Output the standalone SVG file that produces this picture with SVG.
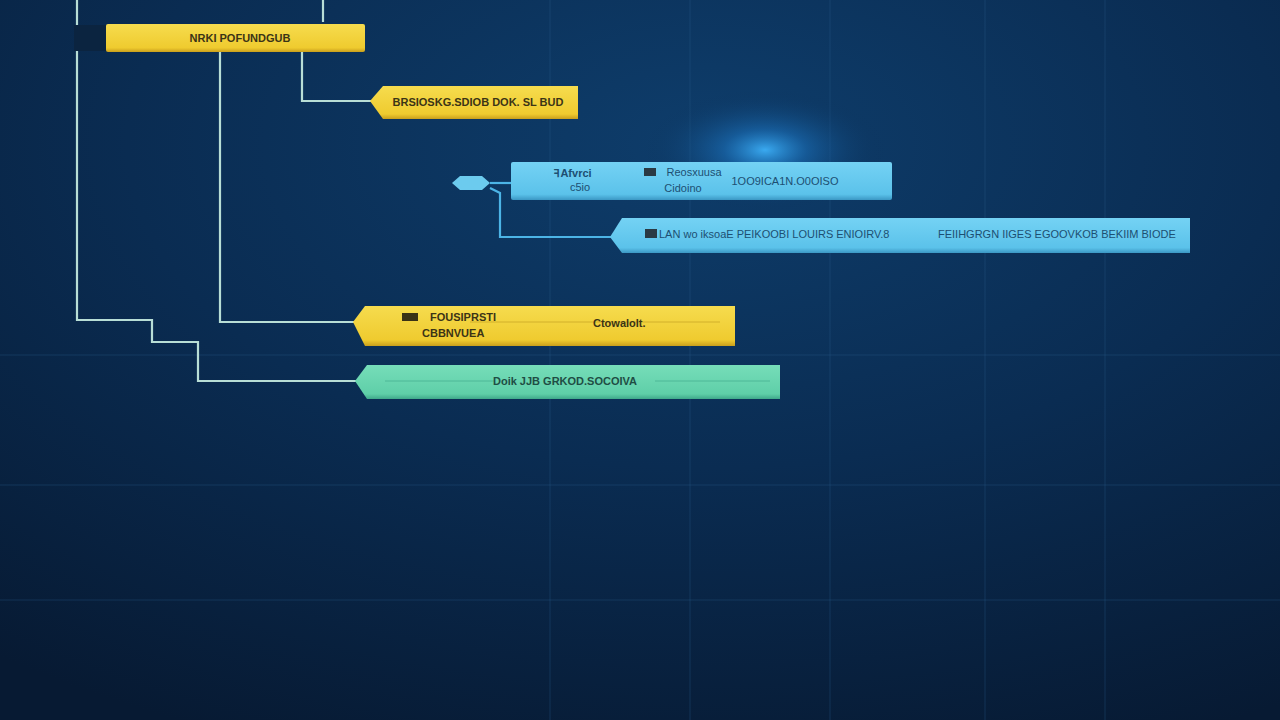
<svg xmlns="http://www.w3.org/2000/svg" width="1280" height="720" viewBox="0 0 1280 720">
<defs>
<radialGradient id="bg" cx="0.55" cy="0.2" r="0.9">
<stop offset="0" stop-color="#0e3d6b"/>
<stop offset="0.5" stop-color="#0a2c52"/>
<stop offset="1" stop-color="#071a33"/>
</radialGradient>
<radialGradient id="glow" cx="0.5" cy="0.5" r="0.5">
<stop offset="0" stop-color="#3fb6ff" stop-opacity="0.9"/>
<stop offset="0.35" stop-color="#1f7fd0" stop-opacity="0.45"/>
<stop offset="1" stop-color="#0a2c52" stop-opacity="0"/>
</radialGradient>
<linearGradient id="yel" x1="0" y1="0" x2="0" y2="1">
<stop offset="0" stop-color="#f6dc4e"/>
<stop offset="0.85" stop-color="#efcb2f"/>
<stop offset="1" stop-color="#c99f1c"/>
</linearGradient>
<linearGradient id="blu" x1="0" y1="0" x2="0" y2="1">
<stop offset="0" stop-color="#74d2f4"/>
<stop offset="0.85" stop-color="#5bc2ea"/>
<stop offset="1" stop-color="#3b97c4"/>
</linearGradient>
<linearGradient id="tea" x1="0" y1="0" x2="0" y2="1">
<stop offset="0" stop-color="#76ddb9"/>
<stop offset="0.85" stop-color="#5fcfa8"/>
<stop offset="1" stop-color="#3fa88a"/>
</linearGradient>
<style>
.wire{fill:none;stroke:#b8ded6;stroke-width:2.2}
.bwire{fill:none;stroke:#4cb4e6;stroke-width:2.2}
.grid{stroke:#2a5c8a;stroke-width:1;opacity:0.35}
.ty{font-family:"Liberation Sans",Arial,sans-serif;font-size:11px;fill:#3b3416;font-weight:bold}
.tb{font-family:"Liberation Sans",Arial,sans-serif;font-size:11px;fill:#1d4f72}
.tt{font-family:"Liberation Sans",Arial,sans-serif;font-size:11px;fill:#1f4d44;font-weight:bold}
</style>
</defs>
<rect width="1280" height="720" fill="url(#bg)"/>
<g id="grid">
<line class="grid" x1="550" y1="0" x2="550" y2="720"/>
<line class="grid" x1="690" y1="0" x2="690" y2="720"/>
<line class="grid" x1="830" y1="0" x2="830" y2="720"/>
<line class="grid" x1="985" y1="0" x2="985" y2="720"/>
<line class="grid" x1="1105" y1="0" x2="1105" y2="720"/>
<line class="grid" x1="0" y1="355" x2="1280" y2="355"/>
<line class="grid" x1="0" y1="485" x2="1280" y2="485"/>
<line class="grid" x1="0" y1="600" x2="1280" y2="600"/>
</g>
<ellipse cx="765" cy="150" rx="120" ry="60" fill="url(#glow)"/>
<g id="connectors">
<polyline class="wire" points="77,0 77,320 152,320 152,342 198,342 198,381 357,381"/>
<polyline class="wire" points="220,52 220,322 356,322"/>
<polyline class="wire" points="323,0 323,22"/>
<polyline class="wire" points="302,52 302,101 372,101"/>
<polyline class="bwire" points="490,183 512,183"/>
<polyline class="bwire" points="490,188 500,193 500,237 612,237"/>
</g>
<g id="node1">
<rect x="74" y="25" width="36" height="26" fill="#0b2440"/>
<rect x="106" y="24" width="259" height="28" rx="2" fill="url(#yel)"/>
<text class="ty" x="240" y="42" text-anchor="middle">NRKI POFUNDGUB</text>
</g>
<g id="node2">
<polygon points="370,101 383,86 578,86 578,119 383,119" fill="url(#yel)"/>
<text class="ty" x="478" y="106" text-anchor="middle">BRSIOSKG.SDIOB  DOK. SL BUD</text>
</g>
<g id="node3">
<polygon points="452,183 460,176 482,176 490,183 482,190 460,190" fill="#6ccbee"/>
<rect x="511" y="162" width="381" height="38" rx="2" fill="url(#blu)"/>
<text class="tb" x="573" y="177" text-anchor="middle" font-weight="bold">ꟻAfvrci</text>
<text class="tb" x="580" y="191" text-anchor="middle">c5io</text>
<rect x="644" y="168" width="12" height="8" fill="#2a3a44"/>
<text class="tb" x="694" y="176" text-anchor="middle">Reosxuusa</text>
<text class="tb" x="683" y="192" text-anchor="middle">Cidoino</text>
<text class="tb" x="785" y="185" text-anchor="middle" font-size="10">1OO9ICA1N.O0OISO</text>
</g>
<g id="node4">
<polygon points="610,237 622,218 1190,218 1190,253 622,253" fill="url(#blu)"/>
<rect x="645" y="229" width="12" height="9" fill="#2a3a44"/>
<text class="tb" x="659" y="238" font-size="10.5">LAN  wo iksoaE  PEIKOOBI LOUIRS  ENIOIRV.8</text>
<text class="tb" x="938" y="238" font-size="10.5">FEIIHGRGN IIGES EGOOVKOB BEKIIM BIODE</text>
</g>
<g id="node5">
<polygon points="353,322 365,306 735,306 735,346 365,346" fill="url(#yel)"/>
<line x1="470" y1="322" x2="720" y2="322" stroke="#d2b02a" stroke-width="1"/>
<rect x="402" y="313" width="16" height="8" fill="#3a3216"/>
<text class="ty" x="430" y="321">FOUSIPRSTI</text>
<text class="ty" x="422" y="337">CBBNVUEA</text>
<text class="ty" x="593" y="327" font-weight="normal">Ctowalolt.</text>
</g>
<g id="node6">
<polygon points="355,381 367,365 780,365 780,399 367,399" fill="url(#tea)"/>
<line x1="385" y1="381" x2="495" y2="381" stroke="#4fb898" stroke-width="1"/>
<line x1="655" y1="381" x2="770" y2="381" stroke="#4fb898" stroke-width="1"/>
<text class="tt" x="565" y="385" text-anchor="middle">Doik JJB GRKOD.SOCOIVA</text>
</g>
</svg>
